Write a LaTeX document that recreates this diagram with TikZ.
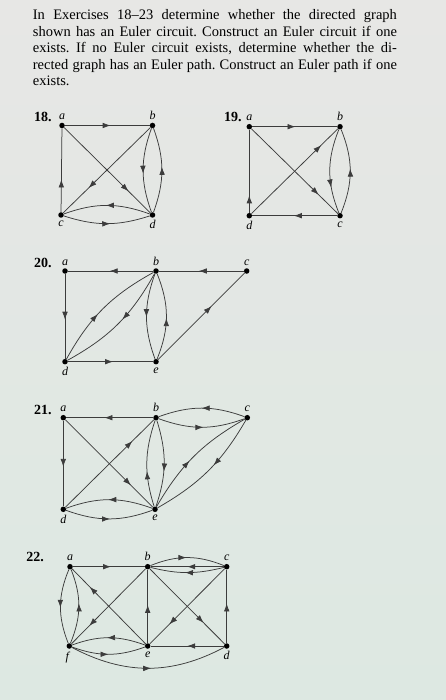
\documentclass[tikz,border=0pt]{standalone}
\usepackage{fontspec}
\setmainfont{Liberation Serif}
\usetikzlibrary{arrows.meta,decorations.markings}

\definecolor{ink}{RGB}{60,60,60}
\definecolor{paperTop}{RGB}{231,231,229}
\definecolor{paperBot}{RGB}{221,232,226}

\begin{document}
\frenchspacing
\begin{tikzpicture}[x=1pt, y=-1pt,
    vtx/.style={circle, fill=black, inner sep=0pt, minimum size=5.5pt},
    ln/.style={draw=ink, line width=0.75pt},
    arrowat/.style={postaction={decorate, decoration={markings,
        mark=at position #1 with {\arrow{Latex[length=8pt,width=5.6pt]}}}}},
    num/.style={font=\fontsize{14}{14}\selectfont\bfseries, inner sep=0pt, anchor=base east},
    every label/.style={font=\fontsize{12}{12}\selectfont\itshape, inner sep=1.5pt},
    label distance=1pt]

  % paper
  \shade[top color=paperTop, bottom color=paperBot] (0,0) rectangle (446,700);

  % text of the exercise
  \node[anchor=north west, inner sep=0pt, text width=364pt, align=justify,
        font=\fontsize{14.5}{16.5}\selectfont] (intro) at (32.7,9.5) {%
    In Exercises 18--23 determine whether the directed graph\linebreak
    shown has an Euler circuit. Construct an Euler circuit if one\linebreak
    exists. If no Euler circuit exists, determine whether the di-\linebreak
    rected graph has an Euler path. Construct an Euler path if one\linebreak
    exists.};

  % 18
  \node[num] (n18) at (51.7,121.5) {18.};
  \node[vtx, label=above:a] (a18) at (62,125.5) {};
  \node[vtx, label=above:b] (b18) at (152.5,125.5) {};
  \node[vtx, label=below:c] (c18) at (61,215) {};
  \node[vtx, label=below:d] (d18) at (152.5,215) {};
  \draw[ln, arrowat=0.54] (a18) -- (b18);
  \draw[ln, arrowat=0.39] (c18) -- (a18);
  \draw[ln, arrowat=0.75] (a18) -- (d18);
  \draw[ln, arrowat=0.71] (b18) -- (c18);
  \draw[ln, arrowat=0.54] (b18) to[bend right=20] (d18);
  \draw[ln, arrowat=0.54] (d18) to[bend right=20] (b18);
  \draw[ln, arrowat=0.51] (d18) to[bend right=20] (c18);
  \draw[ln, arrowat=0.54] (c18) to[bend right=18] (d18);

  % 19
  \node[num] (n19) at (241.7,121.5) {19.};
  \node[vtx, label=above:a] (a19) at (249.3,126.7) {};
  \node[vtx, label=above:b] (b19) at (340,126.7) {};
  \node[vtx, label=below:d] (d19) at (249.3,215.7) {};
  \node[vtx, label=below:c] (c19) at (340,215.7) {};
  \draw[ln, arrowat=0.51] (a19) -- (b19);
  \draw[ln, arrowat=0.21] (d19) -- (a19);
  \draw[ln, arrowat=0.78] (a19) -- (c19);
  \draw[ln, arrowat=0.81] (d19) -- (b19);
  \draw[ln, arrowat=0.69] (b19) to[bend right=22] (c19);
  \draw[ln, arrowat=0.53] (c19) to[bend right=22] (b19);
  \draw[ln, arrowat=0.51] (c19) -- (d19);

  % 20
  \node[num] (n20) at (51.7,267) {20.};
  \node[vtx, label=above:a] (a20) at (65,271) {};
  \node[vtx, label=above:b] (b20) at (156,271) {};
  \node[vtx, label=above:c] (c20) at (246.7,271) {};
  \node[vtx, label=below:d] (d20) at (65,361.7) {};
  \node[vtx, label=below:e] (e20) at (156,361.7) {};
  \draw[ln, arrowat=0.51] (b20) -- (a20);
  \draw[ln, arrowat=0.53] (c20) -- (b20);
  \draw[ln, arrowat=0.54] (a20) -- (d20);
  \draw[ln, arrowat=0.53] (d20) -- (e20);
  \draw[ln, arrowat=0.62] (e20) -- (c20);
  \draw[ln, arrowat=0.51] (b20) to[bend right=20] (e20);
  \draw[ln, arrowat=0.48] (e20) to[bend right=22] (b20);
  \draw[ln, arrowat=0.44] (d20) to[bend left=16] (b20);
  \draw[ln, arrowat=0.45] (b20) to[bend left=16] (d20);

  % 21
  \node[num] (n21) at (51.7,414.7) {21.};
  \node[vtx, label=above:a] (a21) at (63.3,417.7) {};
  \node[vtx, label=above:b] (b21) at (156,417.7) {};
  \node[vtx, label=above:c] (c21) at (247.3,417.7) {};
  \node[vtx, label=below:d] (d21) at (63.3,509.3) {};
  \node[vtx, label=below:e] (e21) at (155,509.3) {};
  \draw[ln, arrowat=0.56] (b21) -- (a21);
  \draw[ln, arrowat=0.54] (a21) -- (d21);
  \draw[ln, arrowat=0.75] (a21) -- (e21);
  \draw[ln, arrowat=0.76] (d21) -- (b21);
  \draw[ln, arrowat=0.50] (c21) to[bend right=20] (b21);
  \draw[ln, arrowat=0.52] (b21) to[bend right=20] (c21);
  \draw[ln, arrowat=0.41] (e21) to[bend left=18] (b21);
  \draw[ln, arrowat=0.59] (b21) to[bend left=18] (e21);
  \draw[ln, arrowat=0.45] (e21) to[bend left=15] (c21);
  \draw[ln, arrowat=0.44] (c21) to[bend left=15] (e21);
  \draw[ln, arrowat=0.51] (e21) to[bend right=20] (d21);
  \draw[ln, arrowat=0.51] (d21) to[bend right=20] (e21);

  % 22
  \node[num] (n22) at (44,561) {22.};
  \node[vtx, label=above:a] (a22) at (70,566.7) {};
  \node[vtx, label=above:b] (b22) at (147.7,566.7) {};
  \node[vtx, label=above:c] (c22) at (226.7,566.7) {};
  \node[vtx, label={[xshift=-2pt]below:f}] (f22) at (69.3,646) {};
  \node[vtx, label=below:e] (e22) at (147.7,646) {};
  \node[vtx, label=below:d] (d22) at (226.7,646) {};
  \draw[ln, arrowat=0.53] (a22) -- (b22);
  \draw[ln, arrowat=0.49] (b22) to[bend left=22] (c22);
  \draw[ln, arrowat=0.50] (c22) -- (b22);
  \draw[ln, arrowat=0.53] (c22) to[bend left=14] (b22);
  \draw[ln, arrowat=0.52] (a22) to[bend right=22] (f22);
  \draw[ln, arrowat=0.54] (f22) to[bend right=22] (a22);
  \draw[ln, arrowat=0.76] (e22) -- (a22);
  \draw[ln, arrowat=0.76] (b22) -- (f22);
  \draw[ln, arrowat=0.52] (e22) -- (b22);
  \draw[ln, arrowat=0.72] (b22) -- (d22);
  \draw[ln, arrowat=0.74] (c22) -- (e22);
  \draw[ln, arrowat=0.54] (d22) -- (c22);
  \draw[ln, arrowat=0.50] (d22) -- (e22);
  \draw[ln, arrowat=0.52] (e22) to[bend right=20] (f22);
  \draw[ln, arrowat=0.50] (f22) to[bend right=20] (e22);
  \draw[ln, arrowat=0.52] (f22) to[bend right=28] (d22);

\end{tikzpicture}
\end{document}
